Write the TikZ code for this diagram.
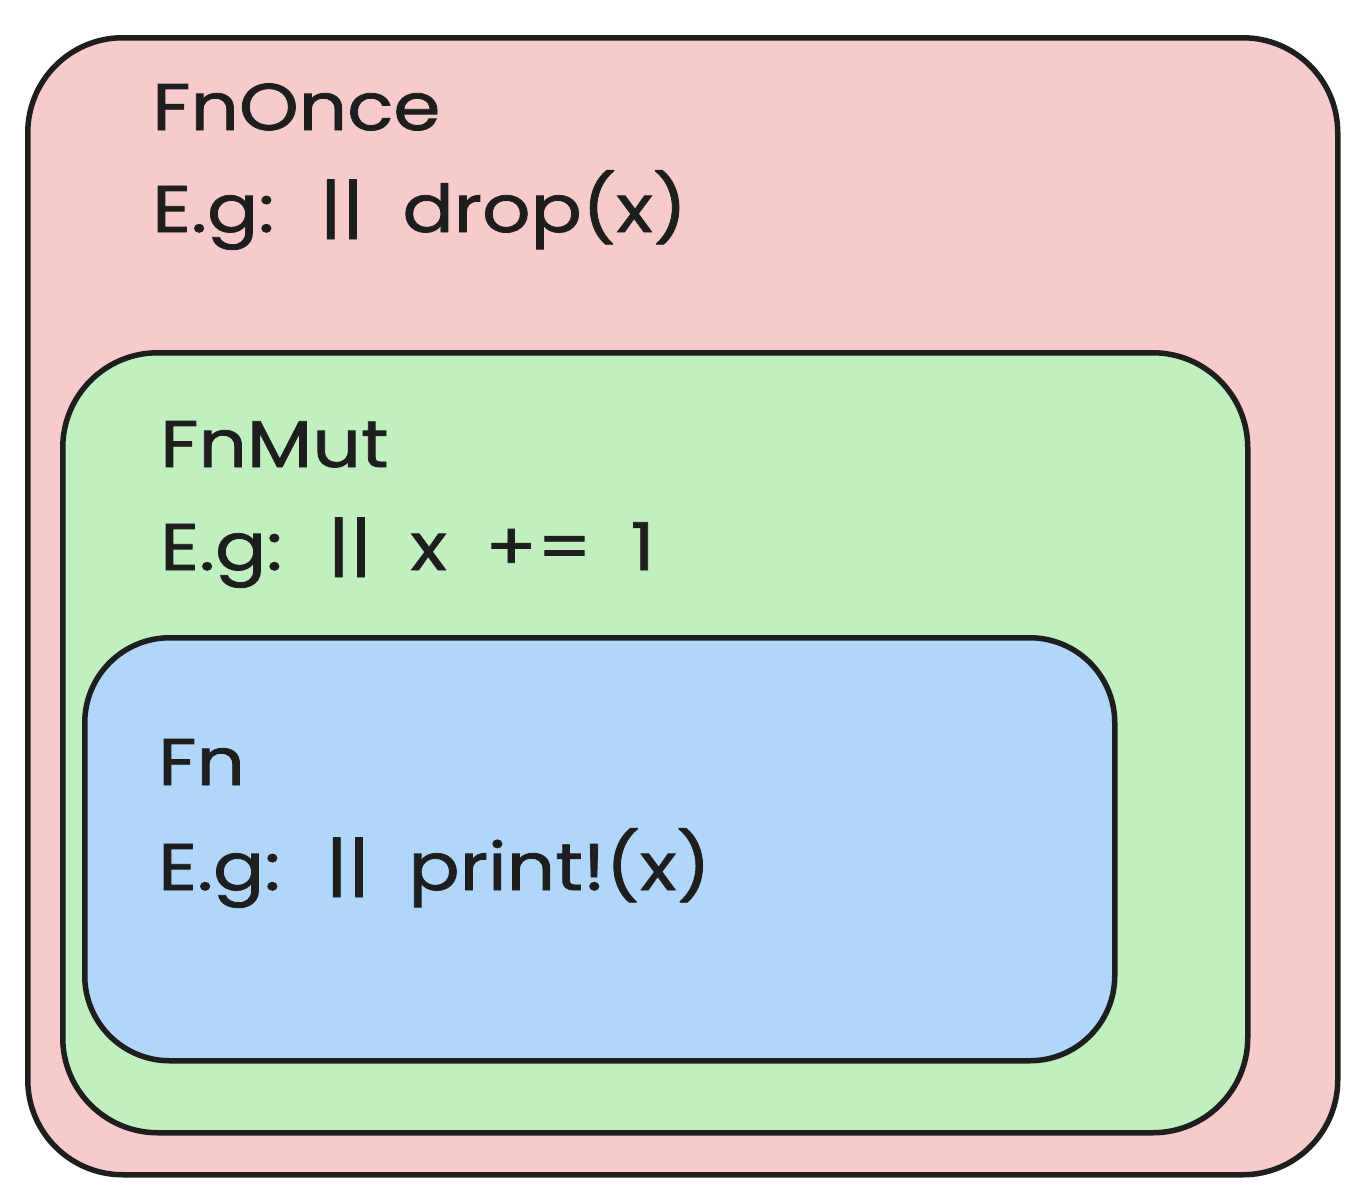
\documentclass[tikz,border=0pt]{standalone}
\usepackage{fontspec}
\setmainfont[FakeBold=1.2, FakeStretch=1.15, WordSpace=1.9]{Poppins}
\definecolor{pinkc}{RGB}{247,203,203}
\definecolor{greenc}{RGB}{192,240,192}
\definecolor{bluec}{RGB}{176,214,250}
\definecolor{inkc}{RGB}{30,30,30}
\begin{document}
\begin{tikzpicture}[x=1pt,y=-1pt,
  box/.style={draw=inkc, line width=5.5pt, rounded corners=95pt, anchor=north west, inner sep=0pt},
  lbl/.style={anchor=base west, inner sep=0pt, text=inkc, font=\fontsize{66}{80}\selectfont}]
\useasboundingbox (0,0) rectangle (1370,1202);
\node[box, fill=pinkc, minimum width=1310pt, minimum height=1137pt] (once) at (25,35) {};
\node[box, fill=greenc, minimum width=1185pt, minimum height=780pt] (mut) at (60,350) {};
\node[box, fill=bluec, rounded corners=85pt, minimum width=1030pt, minimum height=423pt] (fn) at (82,635) {};
\node[lbl] (t1) at (152,130) {FnOnce};
\node[lbl] (e1) at (152,232) {E.g: || drop(x)};
\node[lbl] (t2) at (160,467) {FnMut};
\node[lbl] (e2) at (160,570) {E.g: || x += 1};
\node[lbl] (t3) at (158,785) {Fn};
\node[lbl] (e3) at (158,890) {E.g: || print!(x)};
\end{tikzpicture}
\end{document}
